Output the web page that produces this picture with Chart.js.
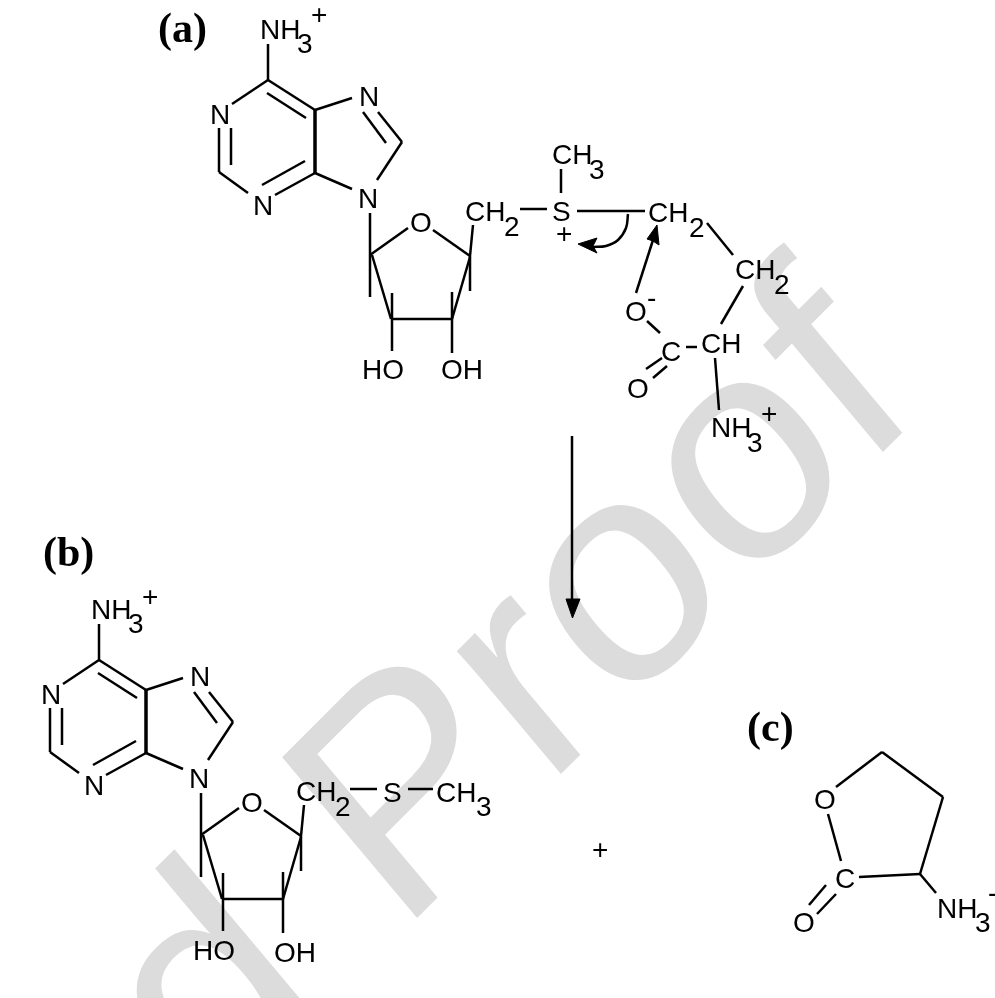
<!DOCTYPE html>
<html lang="en">

<head>
    <meta charset="UTF-8">
    <title>SAM reaction scheme</title>
    <script src="https://cdn.jsdelivr.net/npm/chart.js"></script>
    <style>
        html, body { margin: 0; padding: 0; background: #fff; }
        #wrap { width: 995px; height: 998px; }
    </style>
</head>

<body>
    <div id="wrap"><canvas id="scheme"></canvas></div>

    <script>
        // all values are read off the picture, axes run 0-995 and 0-998 (y downwards)
        // bonds are [x1, y1, x2, y2]
        const adenosineBonds = [
            [268, 44, 268, 80], [268, 80, 232, 104], [268, 80, 315, 110], [267, 93, 306, 118],
            [315, 110, 352, 98], [378, 112, 402, 142], [363, 112, 386, 143], [402, 142, 377, 180],
            [352, 189, 315, 173], [315, 173, 275, 195], [305, 161, 262, 185], [248, 193, 219, 172],
            [219, 172, 219, 128], [231, 128, 231, 165],
            [370, 213, 370, 297], [370, 255, 408, 228], [433, 230, 470, 256], [473, 225, 470, 256],
            [470, 256, 470, 291], [372, 255, 391, 319], [470, 257, 452, 319], [391, 319, 452, 319],
            [392, 293, 392, 351], [452, 292, 452, 353]
        ];
        const fusedBond = [[315, 110, 315, 173]];
        const samChainBonds = [
            [520, 209, 547, 209], [561, 169, 561, 193], [577, 211, 645, 211],
            [707, 223, 733, 255], [743, 286, 721, 324], [686, 347, 697, 347],
            [647, 321, 660, 333], [646, 369, 662, 358], [653, 378, 667, 366], [715, 358, 719, 410],
            [636, 293, 653, 240], [572, 436, 572, 600]
        ];
        const mtaChainBonds = [[350, 789, 377, 789], [408, 789, 433, 789]];
        const lactoneBonds = [
            [836, 787, 882, 752], [882, 752, 943, 797], [943, 797, 920, 874], [920, 874, 859, 877],
            [828, 814, 841, 861], [920, 874, 936, 893], [809, 905, 826, 885], [817, 914, 836, 894]
        ];

        const curvedArrowX = [628, 626, 618, 606, 593];
        const curvedArrowY = [214, 228, 240, 246, 247];

        // filled arrow heads, [x, y] corners
        const arrowHeads = [
            [[578, 244], [597, 238], [593, 246], [597, 253]],
            [[657, 225], [647, 239], [653, 241], [659, 245]],
            [[572.5, 618], [566, 599], [580, 599]]
        ];

        // text, left x, baseline y
        const adenosineLabels = [
            ['NH', 260, 39], ['3', 297, 53], ['N', 210, 124], ['N', 359, 106], ['N', 253, 215],
            ['N', 358, 208], ['O', 410, 232], ['CH', 465, 221], ['2', 504, 236]
        ];
        const hydroxylLabelsA = [['HO', 362, 379], ['OH', 441, 379]];
        const hydroxylLabelsB = [['HO', 193, 960], ['OH', 274, 962]];
        const samChainLabels = [
            ['CH', 552, 164], ['3', 589, 179], ['S', 552, 221], ['CH', 648, 222], ['2', 689, 237],
            ['CH', 735, 279], ['2', 774, 294], ['CH', 701, 353], ['C', 661, 361], ['O', 625, 321],
            ['O', 627, 398], ['NH', 711, 437], ['3', 747, 452]
        ];
        const mtaChainLabels = [['S', 383, 802], ['CH', 436, 802], ['3', 476, 816]];
        const lactoneLabels = [
            ['O', 814, 809], ['C', 835, 888], ['O', 793, 932], ['NH', 937, 918], ['3', 975, 932]
        ];
        const chargeLabels = [
            ['+', 311, 24], ['+', 556, 243], ['-', 647, 307], ['+', 761, 423],
            ['+', 142, 606], ['+', 592, 859], ['-', 988, 902]
        ];
        const panelLabels = [['(a)', 158, 42], ['(b)', 43, 566], ['(c)', 747, 741]];

        const watermarkText = 'd Proof';
        const watermarkAnchor = [209.1, 1125.9];

        // structure (b) is the same adenosine part as (a), moved down and left
        const shiftX = -169;
        const shiftY = 580;
        const shiftBond = b => [b[0] + shiftX, b[1] + shiftY, b[2] + shiftX, b[3] + shiftY];
        const shiftLabel = l => [l[0], l[1] + shiftX, l[2] + shiftY];

        const bondDataset = (b, width) => ({
            data: [{ x: b[0], y: b[1] }, { x: b[2], y: b[3] }],
            borderColor: '#000',
            borderWidth: width,
            pointRadius: 0,
            showLine: true,
            fill: false
        });

        const thinBonds = [
            ...adenosineBonds, ...adenosineBonds.map(shiftBond),
            ...samChainBonds, ...mtaChainBonds, ...lactoneBonds
        ];
        const thickBonds = [...fusedBond, ...fusedBond.map(shiftBond)];

        const datasets = [
            ...thinBonds.map(b => bondDataset(b, 2.5)),
            ...thickBonds.map(b => bondDataset(b, 3.5)),
            {
                data: curvedArrowX.map((x, i) => ({ x: x, y: curvedArrowY[i] })),
                borderColor: '#000',
                borderWidth: 2.5,
                pointRadius: 0,
                showLine: true,
                tension: 0.4,
                fill: false
            },
            ...arrowHeads.map(h => ({
                data: [...h, h[0]].map(p => ({ x: p[0], y: p[1] })),
                borderColor: '#000',
                backgroundColor: '#000',
                borderWidth: 1,
                pointRadius: 0,
                showLine: true,
                fill: 'shape'
            }))
        ];

        // the watermark in the picture is slightly sheared, so not a plain rotate
        const watermark = {
            id: 'watermark',
            beforeDatasetsDraw(chart) {
                const { ctx, scales } = chart;
                ctx.save();
                ctx.transform(0.707 * 3.11, -0.707 * 3.11, 0.643 * 3.05, 0.766 * 3.05,
                    scales.x.getPixelForValue(watermarkAnchor[0]), scales.y.getPixelForValue(watermarkAnchor[1]));
                ctx.font = '100px "Liberation Sans"';
                ctx.wordSpacing = '3px';
                ctx.fillStyle = '#dcdcdc';
                ctx.textAlign = 'left';
                ctx.textBaseline = 'alphabetic';
                ctx.fillText(watermarkText, 0, 0);
                ctx.restore();
            }
        };

        const atomLabels = {
            id: 'atomLabels',
            afterDatasetsDraw(chart) {
                const { ctx, scales } = chart;
                const put = (list, font) => {
                    ctx.font = font;
                    list.forEach(l => ctx.fillText(l[0], scales.x.getPixelForValue(l[1]), scales.y.getPixelForValue(l[2])));
                };
                ctx.save();
                ctx.fillStyle = '#000';
                ctx.textAlign = 'left';
                ctx.textBaseline = 'alphabetic';
                put([
                    ...adenosineLabels, ...adenosineLabels.map(shiftLabel),
                    ...hydroxylLabelsA, ...hydroxylLabelsB,
                    ...samChainLabels, ...mtaChainLabels, ...lactoneLabels, ...chargeLabels
                ], '28px "Liberation Sans"');
                put(panelLabels, 'bold 42px "Liberation Serif"');
                ctx.restore();
            }
        };

        new Chart(document.getElementById('scheme').getContext('2d'), {
            type: 'scatter',
            data: { datasets: datasets },
            plugins: [watermark, atomLabels],
            options: {
                responsive: true,
                maintainAspectRatio: false,
                animation: false,
                layout: { padding: 0 },
                plugins: { legend: { display: false }, tooltip: { enabled: false } },
                scales: {
                    x: { type: 'linear', min: 0, max: 995, display: false },
                    y: { type: 'linear', min: 0, max: 998, reverse: true, display: false }
                }
            }
        });
    </script>

</body>

</html>
